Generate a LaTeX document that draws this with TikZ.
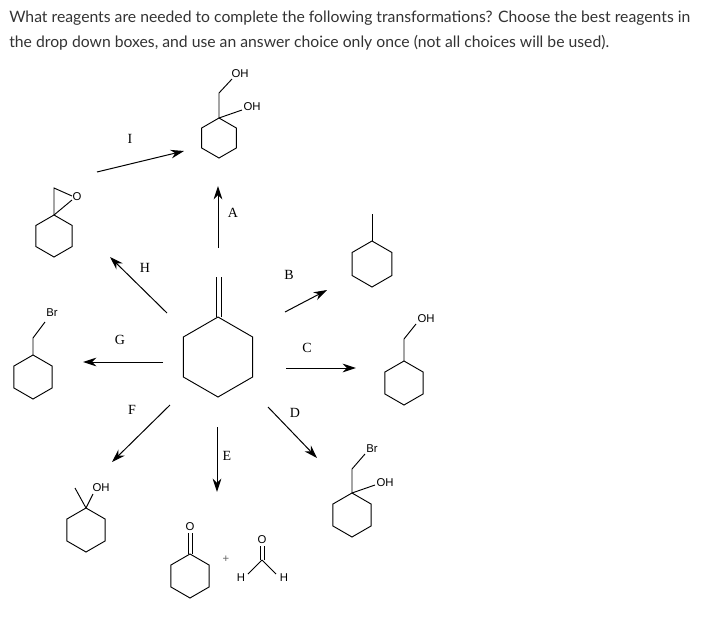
\documentclass[tikz,border=0pt]{standalone}
\usepackage{fontspec}
\setmainfont{Liberation Serif}
\newfontfamily\hdr{Lato}
\newfontfamily\chem{Liberation Sans}
\usetikzlibrary{arrows.meta}
\newcommand{\hexa}[3]{\draw[bond] (#1,#2) ++(0,-#3) -- ++(0.866*#3,0.5*#3) -- ++(0,#3) -- ++(-0.866*#3,0.5*#3) -- ++(-0.866*#3,-0.5*#3) -- ++(0,-#3) -- cycle;}
\tikzset{
  bond/.style={line width=0.7pt, black},
  rxn/.style={line width=0.75pt, -{Stealth[length=10pt,width=6.5pt]}},
  lab/.style={font=\fontsize{10.5}{11}\selectfont, inner sep=0pt},
  atom/.style={font=\chem\fontsize{8.5}{9}\selectfont, inner sep=0pt},
  hdrtext/.style={font=\hdr\fontsize{11.8}{13}\selectfont, text=black!80, inner sep=0pt, anchor=west}
}
\begin{document}
\begin{tikzpicture}[x=0.75pt,y=-0.75pt]
\useasboundingbox (0,0) rectangle (715,621);
\node[hdrtext] (q1) at (9,18) {What reagents are needed to complete the following transformations? Choose the best reagents in};
\node[hdrtext] (q2) at (9,43) {the drop down boxes, and use an answer choice only once (not all choices will be used).};
% central methylenecyclohexane
\hexa{218}{357}{40}
\draw[bond] (216,317) -- (216,277);
\draw[bond] (221,317) -- (221,277);
% diol
\hexa{219}{138}{20}
\draw[bond] (219,118) -- (219,93) -- (232,79);
\node[atom] (oh1) at (240,74) {OH};
\draw[bond] (219,118) -- (242,110);
\node[atom] (oh2) at (252,107) {OH};
% epoxide
\hexa{54}{236}{21}
\draw[bond] (54,215) -- (54,188) -- (72,196);
\draw[bond] (54,215) -- (72,200);
\node[atom] (o1) at (77,197) {O};
% methylcyclohexane
\hexa{372}{264}{23}
\draw[bond] (372,241) -- (372,214);
% cyclohexylmethanol
\hexa{404}{383}{22}
\draw[bond] (404,361) -- (404,339) -- (416,324);
\node[atom] (oh3) at (426,319) {OH};
% bromohydrin
\hexa{352}{515}{22}
\draw[bond] (352,493) -- (352,469) -- (365,454);
\node[atom] (br1) at (372,449) {Br};
\draw[bond] (352,493) -- (375,485);
\node[atom] (oh4) at (385,483) {OH};
% bromomethylcyclohexane
\hexa{33}{377}{22}
\draw[bond] (33,355) -- (33,338) -- (45,322);
\node[atom] (br2) at (52,313) {Br};
% tertiary alcohol
\hexa{86}{530}{22}
\draw[bond] (86,508) -- (75,488);
\draw[bond] (86,508) -- (93,494);
\node[atom] (oh5) at (101,488) {OH};
% cyclohexanone
\hexa{190}{576}{22}
\draw[bond] (188,554) -- (188,533);
\draw[bond] (192,554) -- (192,533);
\node[atom] (o2) at (190,527) {O};
\node[atom, text=black!60] (plus) at (226,559) {+};
% formaldehyde
\draw[bond] (260,560) -- (260,546);
\draw[bond] (264,560) -- (264,546);
\node[atom] (o3) at (262,540) {O};
\draw[bond] (262,560) -- (248,574);
\draw[bond] (262,560) -- (276,574);
\node[atom] (h1) at (241,578) {H};
\node[atom] (h2) at (284,578) {H};
% reaction arrows
\coordinate (Is) at (97,172); \coordinate (Ie) at (184,151);
\coordinate (As) at (218,248); \coordinate (Ae) at (218,186);
\coordinate (Hs) at (167,313); \coordinate (He) at (110,257);
\coordinate (Bs) at (285,312); \coordinate (Be) at (327,290);
\coordinate (Gs) at (163,362); \coordinate (Ge) at (83,362);
\coordinate (Cs) at (286,368); \coordinate (Ce) at (356,368);
\coordinate (Fs) at (170,405); \coordinate (Fe) at (112,462);
\coordinate (Es) at (217,427); \coordinate (Ee) at (217,492);
\coordinate (Ds) at (268,407); \coordinate (De) at (317,458);
\foreach \r in {I,A,H,B,G,C,F,E,D} \draw[rxn] (\r s) -- (\r e);
\node[lab] (lI) at (130,139) {I};
\node[lab] (lA) at (233,213) {A};
\node[lab] (lH) at (145,268) {H};
\node[lab] (lB) at (289,275) {B};
\node[lab] (lG) at (120,340) {G};
\node[lab] (lC) at (307,348) {C};
\node[lab] (lF) at (132,410) {F};
\node[lab] (lE) at (227,456) {E};
\node[lab] (lD) at (295,413) {D};
\end{tikzpicture}
\end{document}
